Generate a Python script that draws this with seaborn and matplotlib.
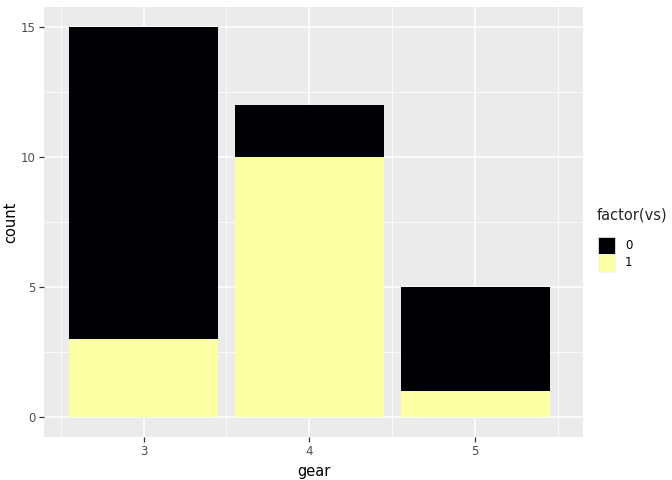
import matplotlib
matplotlib.use("Agg")
import matplotlib.pyplot as plt
import seaborn as sns
import pandas as pd
from matplotlib.patches import Rectangle

gears = ["3", "4", "5"]
vs0_counts = [12, 2, 4]
vs1_counts = [3, 10, 1]
vs_levels = ["0", "1"]
colors = {"0": "#000004", "1": "#FCFFA4"}

totals = [a + b for a, b in zip(vs0_counts, vs1_counts)]
df_top = pd.DataFrame({"gear": gears, "count": totals})
df_bot = pd.DataFrame({"gear": gears, "count": vs1_counts})

sns.set_theme(style="white")
plt.rcParams["font.family"] = ["DejaVu Sans"]

fig = plt.figure(figsize=(6.72, 4.8), dpi=100)
W, H = 672, 480
left, right, top, bottom = 44, 583, 7.3, 436.7
ax = fig.add_axes([left / W, 1 - bottom / H, (right - left) / W, (bottom - top) / H])
ax.set_facecolor("#EBEBEB")

sns.barplot(data=df_top, x="gear", y="count", order=gears, color=colors["0"],
            width=0.9, ax=ax, saturation=1, linewidth=0, zorder=3)
sns.barplot(data=df_bot, x="gear", y="count", order=gears, color=colors["1"],
            width=0.9, ax=ax, saturation=1, linewidth=0, zorder=3)

ax.set_xlim(-0.6, 2.65)
ax.set_ylim(-0.75, 15.75)
ax.set_yticks([0, 5, 10, 15])
ax.set_yticks([2.5, 7.5, 12.5], minor=True)
ax.set_xticks([-0.5, 0.5, 1.5, 2.5], minor=True)
ax.grid(True, which="major", color="white", linewidth=1.1, zorder=0)
ax.grid(True, which="minor", color="white", linewidth=0.55, zorder=0)
ax.set_axisbelow(True)
for s in ax.spines.values():
    s.set_visible(False)
ax.tick_params(axis="both", which="major", length=3.5, width=0.9, color="#333333",
               labelcolor="#4D4D4D", labelsize=8.5, pad=2.5, left=True, bottom=True)
ax.tick_params(axis="both", which="minor", length=0)
ax.set_xlabel("gear", fontsize=10.5, color="black", labelpad=4)
ax.set_ylabel("count", fontsize=10.5, color="black", labelpad=2)

# legend
fig.text(597 / W, 1 - 215 / H, "factor(vs)", fontsize=10.5, ha="left", va="center")
key = 17.3
y0 = 237
for i, lv in enumerate(vs_levels):
    yk = y0 + i * key
    fig.patches.append(Rectangle((598 / W, 1 - (yk + key) / H), key / W, key / H,
                                 transform=fig.transFigure, facecolor=colors[lv],
                                 edgecolor="#F2F2F2", linewidth=0.5))
    fig.text(625 / W, 1 - (yk + key / 2) / H, lv, fontsize=8.5, ha="left", va="center",
             color="black")

fig.savefig("out.png", dpi=100)
